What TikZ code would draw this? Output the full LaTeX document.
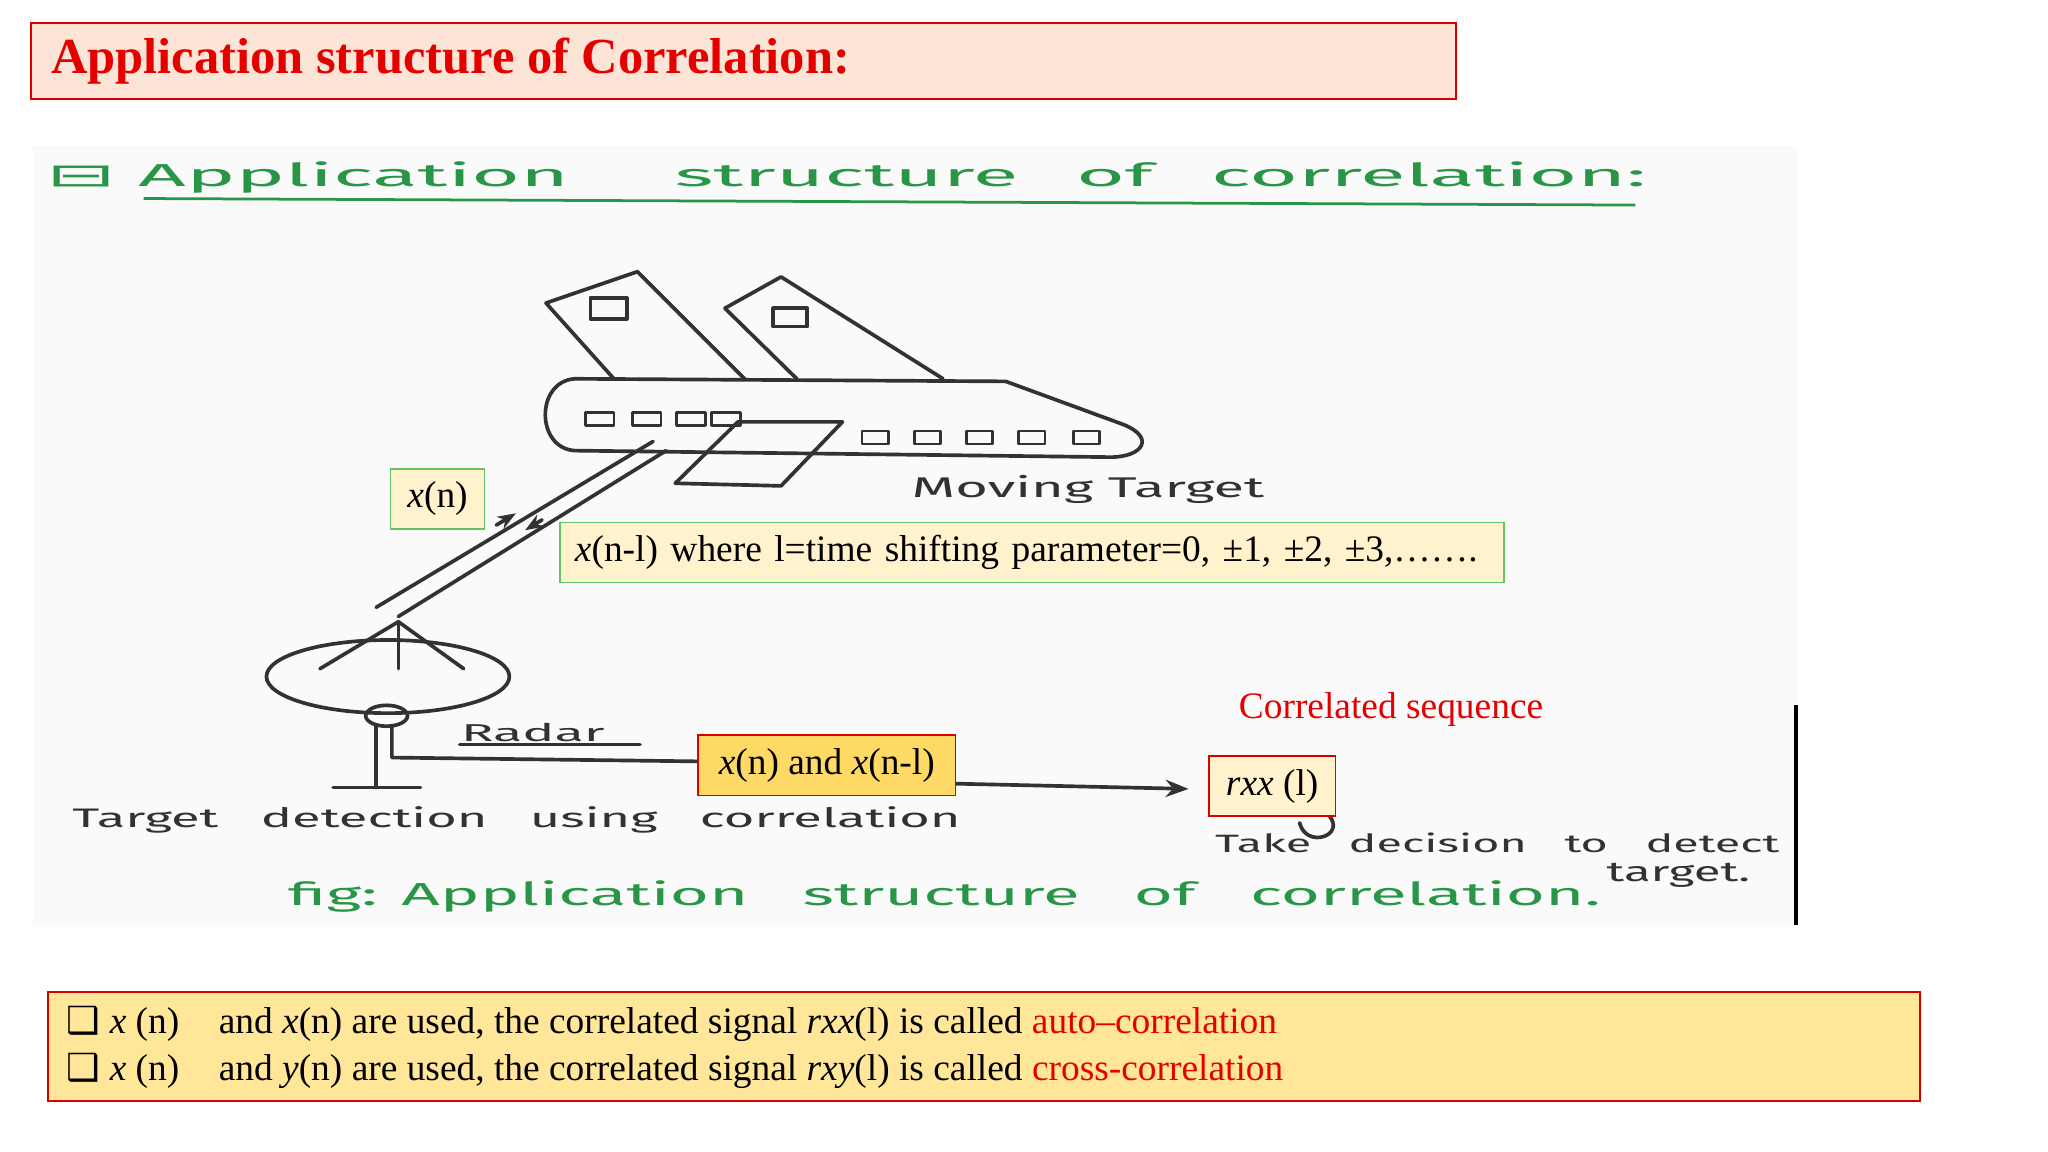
\documentclass[tikz,border=0pt]{standalone}
\usepackage{fontspec}
\setmainfont{Liberation Serif}
\newfontfamily\djfont{DejaVu Sans}
\newfontfamily\hand{Fira Sans}
\usetikzlibrary{arrows.meta}
\definecolor{peach}{RGB}{252,228,214}
\definecolor{lyel}{RGB}{255,242,204}
\definecolor{oyel}{RGB}{255,217,102}
\definecolor{byel}{RGB}{255,230,153}
\definecolor{hgreen}{RGB}{40,150,70}
\definecolor{ink}{RGB}{50,50,50}
\newlength\hwu \setlength\hwu{0.02cm}
\newcommand{\hwtext}[3]{\resizebox{#1\hwu}{#2\hwu}{#3}}
\begin{document}
\begin{tikzpicture}[x=0.02cm,y=-0.02cm,
  gbox/.style={draw=green!60!black!60,fill=lyel,line width=0.8pt,inner sep=5pt,font=\fontsize{16.3}{18}\selectfont},
  rbox/.style={draw=red!85!black,line width=0.8pt,inner sep=5pt,font=\fontsize{16.3}{18}\selectfont},
  sk/.style={ink,line width=1.6pt,line cap=round,line join=round},
  hw/.style={ink,font=\hand\fontsize{11}{13}\selectfont,inner sep=0pt},
  hg/.style={hgreen,font=\hand\fontsize{12}{14}\selectfont,inner sep=0pt}]
\useasboundingbox (0,0) rectangle (1568,882);
\fill[white] (0,0) rectangle (1568,882);
% title
\node[draw=red!85!black,fill=peach,line width=0.8pt,minimum width=1091*0.02cm,minimum height=58*0.02cm,anchor=north west] (title) at (23,17) {};
\node[anchor=west,red!90!black,font=\bfseries\fontsize{22}{25}\selectfont] (tt) at (33,47) {Application structure of Correlation:};
% sketch area
\fill[gray!4] (25,112) rectangle (1376,708);
\node[hg,anchor=west] (ht) at (35,136) {\hwtext{1225}{19}{{\djfont ⊟} Application \quad structure \, of \, correlation:}};
\draw[hgreen,line width=1.2pt] (110,152) -- (1252,157);
% plane wings
\draw[sk] (418,232) -- (488,208) -- (570,290);
\draw[sk] (418,232) -- (470,290);
\draw[sk] (555,236) -- (598,212) -- (722,290);
\draw[sk] (555,236) -- (610,290);
\draw[sk] (452,228) rectangle (480,244);
\draw[sk] (592,236) rectangle (618,250);
% body
\draw[sk] (440,290) -- (770,292) -- (860,325) .. controls (885,335) and (875,350) .. (850,350) -- (440,345) .. controls (410,343) and (410,292) .. (440,290);
\foreach \x in {448,484,518,545}{\draw[sk,line width=1.2pt] (\x,316) rectangle ++(22,10);}
\foreach \x in {660,700,740,780,822}{\draw[sk,line width=1.2pt] (\x,330) rectangle ++(20,10);}
\draw[sk] (565,323) -- (645,323) -- (598,372) -- (517,370) -- cycle;
\node[hw] (mt) at (833,375) {\hwtext{270}{17}{Moving Target}};
% radar beams
\draw[sk] (288,465) -- (500,338);
\draw[sk] (305,472) -- (510,345);
\draw[sk,-{Stealth[length=8pt]}] (380,402) -- (395,393);
\draw[sk,-{Stealth[length=8pt]}] (415,398) -- (402,406);
% radar
\draw[sk] (297,518) ellipse (93 and 28);
\draw[sk] (245,512) -- (305,476) -- (355,512);
\draw[sk] (305,476) -- (305,512);
\draw[sk] (296,548) ellipse (16 and 8);
\draw[sk] (288,556) -- (288,603); \draw[sk] (300,556) -- (300,580) -- (540,583);
\draw[sk] (255,603) -- (322,603);
\node[hw] (rad) at (408,561) {\hwtext{110}{14}{Radar}};
\draw[sk] (352,570) -- (490,570);
\coordinate (ae) at (732,600);
\draw[sk,-{Stealth[length=10pt]}] (ae) -- (910,604);
\node[hw,anchor=west] (td) at (55,628) {\hwtext{680}{16}{Target \; detection \; using \; correlation}};
\node[hg,anchor=west] (fg) at (220,686) {\hwtext{1005}{19}{fig: Application \; structure \; of \; correlation.}};
\node[hw,anchor=west] (tk) at (930,645) {\hwtext{432}{15}{Take \; decision \; to \; detect}};
\node[hw] (tg) at (1285,670) {\hwtext{110}{14}{target.}};
\draw[sk] (1018,625) .. controls (1030,640) and (1000,650) .. (995,630);
\draw[black,line width=1.5pt] (1375,540) -- (1375,708);
% labels
\node[gbox,minimum width=72*0.02cm,minimum height=46*0.02cm] (xn) at (335,382) {\textit{x}(n)};
\node[gbox,minimum width=723*0.02cm,minimum height=46*0.02cm,anchor=west,text width=700*0.02cm] (xnl) at (428,423) {\textit{x}(n-l) where l=time shifting parameter=0, ±1, ±2, ±3,…….};
\node[red!90!black,font=\fontsize{16.3}{18}\selectfont] (cs) at (1065,543) {Correlated sequence};
\node[rbox,fill=oyel,minimum width=197*0.02cm,minimum height=46*0.02cm] (both) at (633,586) {\textit{x}(n) and \textit{x}(n-l)};
\node[rbox,fill=lyel,minimum width=97*0.02cm,minimum height=46*0.02cm] (rxx) at (974,602) {\textit{rxx} (l)};
% bottom
\node[rbox,fill=byel,minimum width=1433*0.02cm,minimum height=83*0.02cm,anchor=north west] (bot) at (36,759) {};
\node[anchor=west,font=\fontsize{16.3}{18}\selectfont] (l1) at (45,784) {{\djfont ❑} \textit{x} (n) \;\; and \textit{x}(n) are used, the correlated signal \textit{rxx}(l) is called \textcolor{red!90!black}{auto–correlation}};
\node[anchor=west,font=\fontsize{16.3}{18}\selectfont] (l2) at (45,820) {{\djfont ❑} \textit{x} (n) \;\; and \textit{y}(n) are used, the correlated signal \textit{rxy}(l) is called \textcolor{red!90!black}{cross-correlation}};
\end{tikzpicture}
\end{document}
